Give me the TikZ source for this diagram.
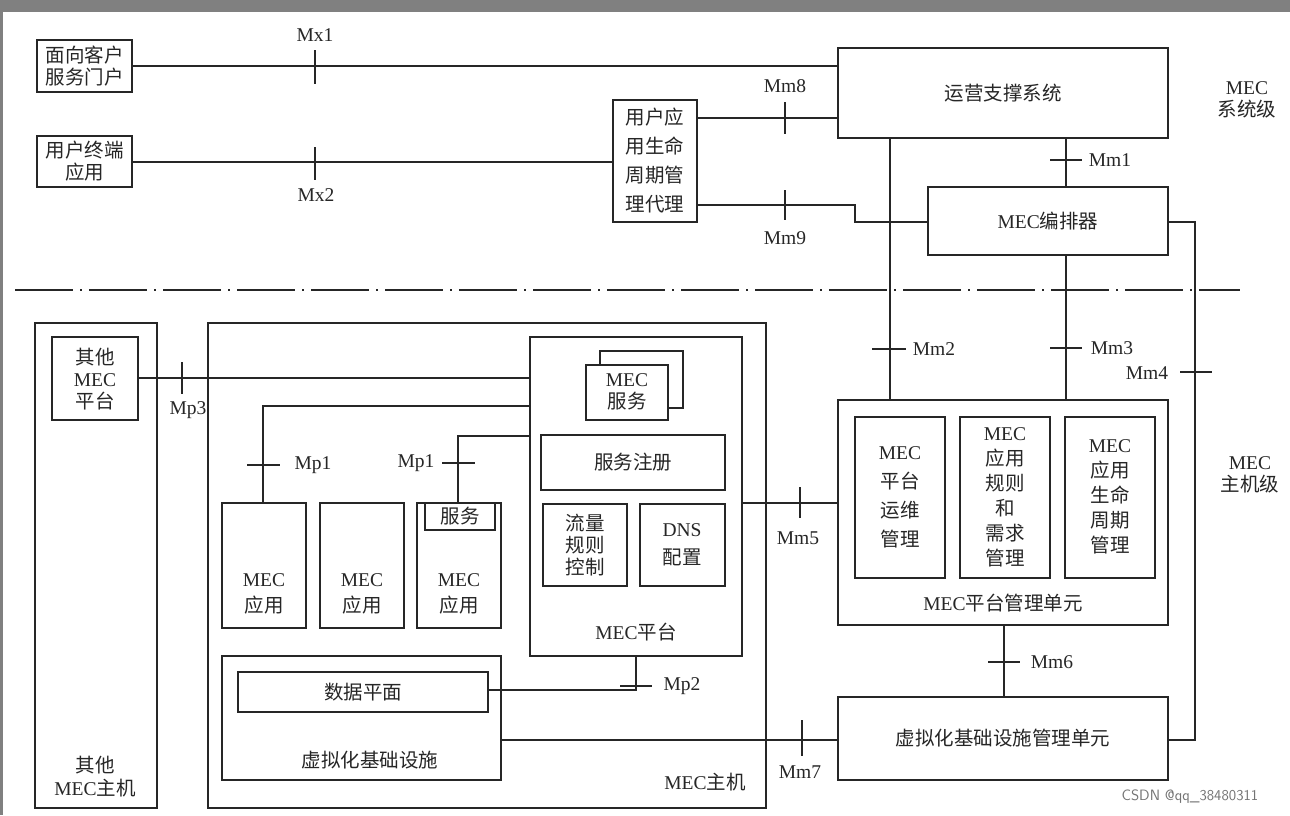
\documentclass[tikz,border=0pt]{standalone}
\usepackage{fontspec}
\setmainfont{Liberation Serif}
\newfontfamily\cjk{Noto Sans CJK SC}
\newcommand{\zh}[1]{{\cjk #1}}
\begin{document}
\begin{tikzpicture}[x=1pt,y=-1pt,
  every node/.style={font=\fontsize{19.5}{27}\selectfont, text=black!85},
  bx/.style={draw=black!85, line width=1.3pt},
  ln/.style={draw=black!85, line width=1.3pt},
  lbl/.style={inner sep=1pt}]
\useasboundingbox (0,0) rectangle (1290,815);
\fill[white] (0,0) rectangle (1290,815);
\fill[gray] (0,0) rectangle (1290,12);
\fill[gray] (0,0) rectangle (3,815);
% boxes
\draw[bx] (37,40) rectangle (132,92); \node (portal) at (84.5,66) [align=center]{\zh{面向客户}\\[-5pt]\zh{服务门户}};
\draw[bx] (37,136) rectangle (132,187); \node (term) at (84.5,161.5) [align=center]{\zh{用户终端}\\[-5pt]\zh{应用}};
\draw[bx] (613,100) rectangle (697,222); \node (agent) at (655,161) [align=center]{\zh{用户应}\\[2pt]\zh{用生命}\\[2pt]\zh{周期管}\\[2pt]\zh{理代理}};
\draw[bx] (838,48) rectangle (1168,138); \node (oss) at (1003,93) {\zh{运营支撑系统}};
\draw[bx] (928,187) rectangle (1168,255); \node (orch) at (1048,221) {MEC\zh{编排器}};
% system-level lines
\draw[ln] (132,66) -- (838,66); \draw[ln] (315,50) -- (315,84); \node[lbl] (mx1) at (315,35) {Mx1};
\draw[ln] (132,162) -- (613,162); \draw[ln] (315,147) -- (315,180); \node[lbl] (mx2) at (316,195) {Mx2};
\draw[ln] (697,118) -- (838,118); \draw[ln] (785,102) -- (785,134); \node[lbl] (mm8) at (785,86) {Mm8};
\draw[ln] (697,205) -- (855,205) -- (855,222) -- (928,222); \draw[ln] (785,190) -- (785,220); \node[lbl] (mm9) at (785,238) {Mm9};
\draw[ln] (1066,138) -- (1066,187); \draw[ln] (1050,160) -- (1082,160); \node[lbl] (mm1) at (1110,160) {Mm1};
\draw[ln] (890,138) -- (890,400); \draw[ln] (872,349) -- (906,349); \node[lbl] (mm2) at (934,349) {Mm2};
\draw[ln] (1066,255) -- (1066,400); \draw[ln] (1050,348) -- (1082,348); \node[lbl] (mm3) at (1112,348) {Mm3};
\draw[ln] (1168,222) -- (1195,222) -- (1195,740) -- (1168,740); \draw[ln] (1180,372) -- (1212,372); \node[lbl] (mm4) at (1147,373) {Mm4};
\draw[black!85, line width=1.3pt, dash pattern=on 58pt off 7pt on 2pt off 7pt] (15,290) -- (1240,290);
\node (sys) at (1247,100) [align=center]{MEC\\[-5pt]\zh{系统级}};
\node (host) at (1250,475) [align=center]{MEC\\[-5pt]\zh{主机级}};
% other host
\draw[bx] (35,323) rectangle (157,808); \node (oh) at (95,777) [align=center]{\zh{其他}\\[-4pt]MEC\zh{主机}};
\draw[bx] (52,337) rectangle (138,420); \node (op) at (95,379) [align=center]{\zh{其他}\\[-5pt]MEC\\[-5pt]\zh{平台}};
% MEC host
\draw[bx] (208,323) rectangle (766,808); \node (mh) at (705,782) {MEC\zh{主机}};
\draw[bx] (530,337) rectangle (742,656); \node (mp) at (636,632) {MEC\zh{平台}};
\draw[bx,fill=white] (600,351) rectangle (683,408);
\draw[bx,fill=white] (586,365) rectangle (668,420); \node (svc) at (627,392) [align=center]{MEC\\[-5pt]\zh{服务}};
\draw[bx] (541,435) rectangle (725,490); \node (reg) at (633,462) {\zh{服务注册}};
\draw[bx] (543,504) rectangle (627,586); \node (flow) at (585,545) [align=center]{\zh{流量}\\[-5pt]\zh{规则}\\[-5pt]\zh{控制}};
\draw[bx] (640,504) rectangle (725,586); \node (dns) at (682,545) [align=center]{DNS\\[1pt]\zh{配置}};
\draw[bx] (222,503) rectangle (306,628); \node (a1) at (264,594) [align=center]{MEC\\[-1pt]\zh{应用}};
\draw[bx] (320,503) rectangle (404,628); \node (a2) at (362,594) [align=center]{MEC\\[-1pt]\zh{应用}};
\draw[bx] (417,503) rectangle (501,628); \node (a3) at (459,594) [align=center]{MEC\\[-1pt]\zh{应用}};
\draw[bx] (425,503) rectangle (495,530); \node (s3) at (460,516) {\zh{服务}};
\draw[bx] (222,656) rectangle (501,780); \node (vi) at (370,760) {\zh{虚拟化基础设施}};
\draw[bx] (238,672) rectangle (488,712); \node (dp) at (363,692) {\zh{数据平面}};
% host lines
\draw[ln] (138,378) -- (530,378); \draw[ln] (182,362) -- (182,394); \node[lbl] (mp3) at (188,410) {Mp3};
\draw[ln] (263,503) -- (263,406) -- (530,406); \draw[ln] (247,465) -- (280,465); \node[lbl] (mp1a) at (313,465) {Mp1};
\draw[ln] (458,503) -- (458,436) -- (530,436); \draw[ln] (442,463) -- (475,463); \node[lbl] (mp1b) at (416,463) {Mp1};
\draw[ln] (488,690) -- (636,690) -- (636,656); \draw[ln] (620,686) -- (652,686); \node[lbl] (mp2) at (682,686) {Mp2};
\draw[ln] (742,503) -- (838,503); \draw[ln] (800,487) -- (800,518); \node[lbl] (mm5) at (798,538) {Mm5};
\draw[ln] (501,740) -- (838,740); \draw[ln] (802,720) -- (802,756); \node[lbl] (mm7) at (800,772) {Mm7};
% platform management
\draw[bx] (838,400) rectangle (1168,625); \node (pmu) at (1003,603) {MEC\zh{平台管理单元}};
\draw[bx] (855,417) rectangle (945,578); \node (p1) at (900,497) [align=center]{MEC\\[2pt]\zh{平台}\\[2pt]\zh{运维}\\[2pt]\zh{管理}};
\draw[bx] (960,417) rectangle (1050,578); \node (p2) at (1005,497) [align=center]{MEC\\[-2pt]\zh{应用}\\[-2pt]\zh{规则}\\[-2pt]\zh{和}\\[-2pt]\zh{需求}\\[-2pt]\zh{管理}};
\draw[bx] (1065,417) rectangle (1155,578); \node (p3) at (1110,497) [align=center]{MEC\\[-2pt]\zh{应用}\\[-2pt]\zh{生命}\\[-2pt]\zh{周期}\\[-2pt]\zh{管理}};
\draw[ln] (1004,625) -- (1004,697); \draw[ln] (988,662) -- (1020,662); \node[lbl] (mm6) at (1052,662) {Mm6};
\draw[bx] (838,697) rectangle (1168,780); \node (vim) at (1003,738) {\zh{虚拟化基础设施管理单元}};
\node[font=\fontsize{15}{18}\selectfont\sffamily, text=black!55] (wm) at (1190,797) {CSDN @qq\_38480311};
\end{tikzpicture}
\end{document}
